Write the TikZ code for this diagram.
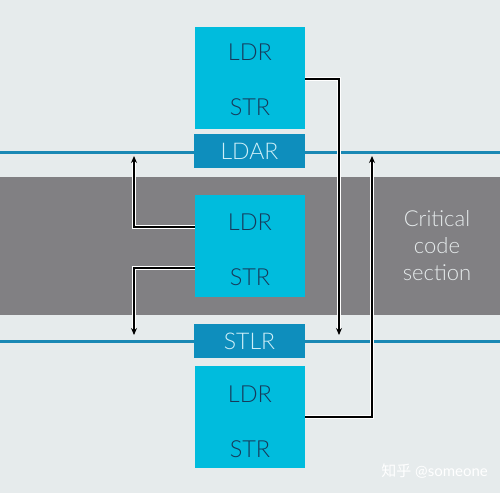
\documentclass[tikz,border=0pt]{standalone}
\usepackage{fontspec}
\setmainfont{Lato}[UprightFont=* Light]
\newfontfamily\latoreg{Lato}
\newfontfamily\cjk{Noto Sans CJK SC}
\usetikzlibrary{arrows.meta}
\definecolor{bg}{HTML}{E6EBEC}
\definecolor{band}{HTML}{818083}
\definecolor{cyanbox}{HTML}{00BCDD}
\definecolor{darkbox}{HTML}{0E8EBD}
\definecolor{rule}{HTML}{1A88B4}
\definecolor{boxtext}{HTML}{17395A}
\definecolor{bartext}{HTML}{CDEFF8}
\tikzset{
  codebox/.style={fill=cyanbox, draw=none, minimum width=110pt, minimum height=102pt, inner sep=0pt},
  barbox/.style={fill=darkbox, draw=none, minimum width=111pt, minimum height=34pt, inner sep=0pt, text=bartext, font=\fontsize{23}{23}\selectfont},
  instr/.style={text=boxtext, font=\fontsize{23.5}{23.5}\selectfont, inner sep=0pt},
  halo/.style={draw=white, line width=3.2pt},
  conn/.style={draw=black, line width=1.3pt, -{Stealth[length=7pt,width=6pt]}},
}
\begin{document}
\begin{tikzpicture}[x=1pt,y=-1pt]
\useasboundingbox (0,0) rectangle (500,493);
\fill[bg] (0,0) rectangle (500,493);
\fill[band] (0,177) rectangle (500,315);
\draw[rule, line width=3pt] (0,152) -- (500,152);
\draw[rule, line width=3pt] (0,341) -- (500,341);
% boxes
\node[codebox] (top) at (250,78) {};
\node[barbox] (ldar) at (249.5,151) {LDAR};
\node[codebox] (mid) at (250,245.5) {};
\node[barbox] (stlr) at (249.5,341) {STLR};
\node[codebox] (bot) at (250,416.5) {};
\node[instr] (t1) at (250,52) {LDR};
\node[instr] (t2) at (250,107) {STR};
\node[instr] (m1) at (250,222) {LDR};
\node[instr] (m2) at (250,277) {STR};
\node[instr] (b1) at (250,394) {LDR};
\node[instr] (b2) at (250,449) {STR};
% connector coordinates
\coordinate (ta) at (305,79);
\coordinate (tc) at (339,79);
\coordinate (te) at (339,335);
\coordinate (ba) at (305,417);
\coordinate (bc) at (372,417);
\coordinate (be) at (372,156);
\coordinate (ma) at (195,227);
\coordinate (mc) at (134,227);
\coordinate (me) at (134,156);
\coordinate (na) at (195,268);
\coordinate (nc) at (134,268);
\coordinate (ne) at (134,335);
% halos
\draw[halo] (ta) -- (tc) -- ([yshift=6pt]te);
\draw[halo] (ba) -- (bc) -- ([yshift=-6pt]be);
\draw[halo] (ma) -- (mc) -- ([yshift=-6pt]me);
\draw[halo] (na) -- (nc) -- ([yshift=6pt]ne);
% connectors
\draw[conn] (ta) -- (tc) -- (te);
\draw[conn] (ba) -- (bc) -- (be);
\draw[conn] (ma) -- (mc) -- (me);
\draw[conn] (na) -- (nc) -- (ne);
% label
\node[text=bg, font=\fontsize{22}{27}\selectfont, align=center, inner sep=0pt] (crit) at (437,246) {Critical\\code\\section};
\node[text=white, font=\latoreg\fontsize{15}{15}\selectfont, inner sep=0pt, anchor=east] (wm) at (488,471) {{\cjk 知乎} @someone};
\end{tikzpicture}
\end{document}
